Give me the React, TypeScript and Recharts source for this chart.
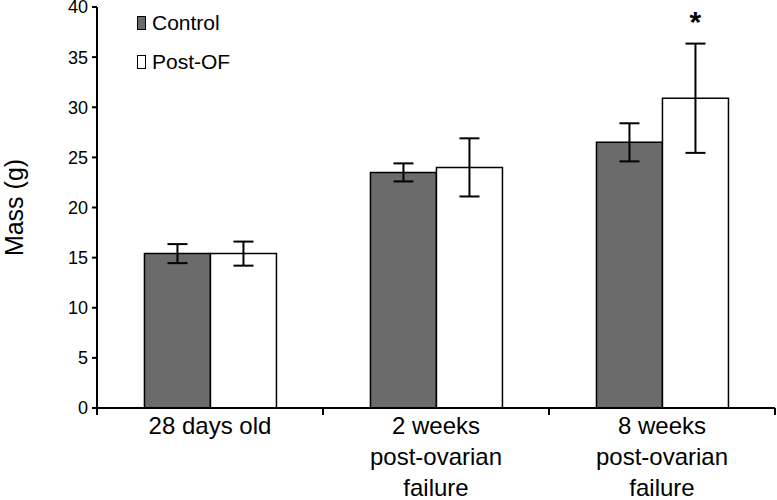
import React from "react";
import { BarChart, Bar, XAxis, YAxis, ErrorBar, Legend, LabelList } from "recharts";

const categories = ["28 days old", "2 weeks\npost-ovarian\nfailure", "8 weeks\npost-ovarian\nfailure"];
const control = [15.4, 23.5, 26.5];
const controlErr = [0.95, 0.9, 1.9];
const postOF = [15.4, 24.0, 30.9];
const postOFErr = [1.2, 2.9, 5.45];
const significance = ["", "", "*"];
const yTicks = [0, 5, 10, 15, 20, 25, 30, 35, 40];
const seriesInfo = [
  { key: "control", name: "Control", fill: "#6b6b6b" },
  { key: "postOF", name: "Post-OF", fill: "#ffffff" },
];

const data = categories.map((name, i) => ({
  name,
  control: control[i],
  controlErr: controlErr[i],
  postOF: postOF[i],
  postOFErr: postOFErr[i],
  sig: significance[i],
}));

const W = 777;
const H = 500;
const MARGIN = { top: 7, right: 2, left: 0, bottom: 0 };
const Y_AXIS_W = 97;
const FONT = "'Liberation Sans', Arial, Helvetica, sans-serif";
const BAND = (W - MARGIN.left - MARGIN.right - Y_AXIS_W) / categories.length;

const XTick = (props: any) => {
  const { x, y, payload, index } = props;
  const lines = String(payload.value).split("\n");
  return (
    <g>
      {index === 0 && (
        <line x1={x - BAND / 2} x2={x - BAND / 2} y1={y} y2={y + 7} stroke="#000" strokeWidth={2} />
      )}
      <line x1={x + BAND / 2} x2={x + BAND / 2} y1={y} y2={y + 7} stroke="#000" strokeWidth={2} />
      <text x={x} y={y} textAnchor="middle" fontFamily={FONT} fontSize={24} fill="#000">
        {lines.map((l, i) => (
          <tspan key={i} x={x} y={y + 26 + i * 31}>
            {l}
          </tspan>
        ))}
      </text>
    </g>
  );
};

const renderLegend = () => (
  <div style={{ position: "relative", width: 160, height: 70, fontFamily: FONT, fontSize: 21, color: "#000" }}>
    {seriesInfo.map((s, i) => (
      <div
        key={s.key}
        style={{ position: "absolute", left: 0, top: i * 39, height: 24, display: "flex", alignItems: "center", whiteSpace: "nowrap" }}
      >
        <span
          style={{ display: "inline-block", width: 7, height: 12, border: "1px solid #000", background: s.fill, marginRight: 6 }}
        />
        <span style={{ lineHeight: "24px" }}>{s.name}</span>
      </div>
    ))}
  </div>
);

const StarLabel = (props: any) => {
  const vb = props.viewBox || {};
  const x = props.x ?? vb.x;
  const y = props.y ?? vb.y;
  const width = props.width ?? vb.width;
  const height = props.height ?? vb.height;
  const index = props.index;
  const sig = props.value ?? significance[index];
  if (!sig) return null;
  const i = index ?? significance.indexOf(sig);
  const pxPerUnit = height / postOF[i];
  const errTop = y - postOFErr[i] * pxPerUnit;
  return (
    <text x={x + width / 2} y={errTop - 12} textAnchor="middle" fontFamily={FONT} fontSize={30} fontWeight="bold" fill="#000">
      {sig}
    </text>
  );
};

export default function App() {
  return (
    <div style={{ position: "absolute", left: 0, top: 0, width: W, height: H, background: "#fff" }}>
      <BarChart width={W} height={H} data={data} margin={MARGIN} barCategoryGap="21%" barGap={0}>
        <XAxis
          dataKey="name"
          interval={0}
          tickLine={false}
          tickSize={0}
          tickMargin={0}
          height={H - 408}
          axisLine={{ stroke: "#000", strokeWidth: 2 }}
          tick={<XTick />}
        />
        <YAxis
          width={Y_AXIS_W}
          domain={[0, 40]}
          ticks={yTicks}
          interval={0}
          tickSize={5}
          tickMargin={4}
          axisLine={{ stroke: "#000", strokeWidth: 2 }}
          tickLine={{ stroke: "#000", strokeWidth: 2 }}
          tick={{ fill: "#000", fontSize: 18, fontFamily: FONT }}
          label={({ viewBox }: any) => (
            <text
              transform={`translate(23, ${viewBox.y + viewBox.height / 2}) rotate(-90)`}
              textAnchor="middle"
              fontFamily={FONT}
              fontSize={25}
              fill="#000"
            >
              Mass (g)
            </text>
          )}
        />
        <Legend
          layout="vertical"
          align="center"
          verticalAlign="middle"
          content={renderLegend}
          wrapperStyle={{ left: 137, top: 11, width: 170, height: 70 }}
        />
        <Bar dataKey="control" name="Control" fill="#6b6b6b" stroke="#000" strokeWidth={1.5} isAnimationActive={false}>
          <ErrorBar dataKey="controlErr" direction="y" width={10} stroke="#000" strokeWidth={2} />
        </Bar>
        <Bar dataKey="postOF" name="Post-OF" fill="#ffffff" stroke="#000" strokeWidth={1.5} isAnimationActive={false}>
          <ErrorBar dataKey="postOFErr" direction="y" width={10} stroke="#000" strokeWidth={2} />
          <LabelList dataKey="sig" content={<StarLabel />} />
        </Bar>
      </BarChart>
    </div>
  );
}
